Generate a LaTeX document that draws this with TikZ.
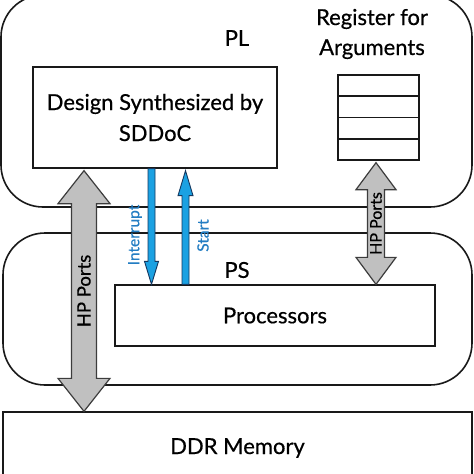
\documentclass[tikz,border=0pt]{standalone}
\usepackage{fontspec}
\setmainfont{Lato}[FakeBold=0.5,AutoFakeBold=0.5]
\newfontfamily\lblfont{Lato}
\usetikzlibrary{calc}
\definecolor{cyanfill}{RGB}{27,161,226}
\definecolor{cyanline}{RGB}{20,55,95}
\definecolor{labelblue}{RGB}{35,125,195}
\definecolor{grayfill}{RGB}{192,192,192}
\definecolor{ink}{RGB}{25,25,25}
\newcommand{\dblvarrow}[6]{%
  \draw[#1] let \p1=(#2), \p2=(#3) in
   (\x1,\y1) -- (\x1+#5,\y1-#6) -- (\x1+#4,\y1-#6) -- (\x1+#4,\y2+#6) -- (\x1+#5,\y2+#6)
   -- (\x1,\y2) -- (\x1-#5,\y2+#6) -- (\x1-#4,\y2+#6) -- (\x1-#4,\y1-#6) -- (\x1-#5,\y1-#6) -- cycle;}
\newcommand{\sglvarrow}[6]{% tail #2, tip #3 (vertical)
  \draw[#1] let \p1=(#2), \p2=(#3), \n1={ifthenelse(\y2>\y1,1,-1)} in
   (\x1-#4,\y1) -- (\x1-#4,\y2-\n1*#6) -- (\x1-#5,\y2-\n1*#6) -- (\x1,\y2)
   -- (\x1+#5,\y2-\n1*#6) -- (\x1+#4,\y2-\n1*#6) -- (\x1+#4,\y1) -- cycle;}
\tikzset{
  group/.style={draw=ink, line width=1.6pt, rounded corners=42pt, inner sep=0pt},
  box/.style={draw=ink, line width=1.3pt, fill=white, inner sep=0pt, align=center,
              font=\fontsize{22}{31}\selectfont\bfseries},
  lbl/.style={inner sep=0pt, align=center, font=\fontsize{22}{30}\selectfont\bfseries},
  fatarrow/.style={draw=ink!85, fill=grayfill, line width=1.2pt, line join=miter},
  bluearrow/.style={draw=cyanline, fill=cyanfill, line width=0.9pt, line join=miter},
  hplabel/.style={inner sep=0pt, rotate=90},
  siglabel/.style={inner sep=0pt, rotate=90, text=labelblue, font=\fontsize{15.5}{17}\selectfont},
}
\begin{document}
\begin{tikzpicture}[x=1pt,y=-1pt]
\useasboundingbox (0,0) rectangle (474,474);
\clip (0,0) rectangle (474,474);
\fill[white] (0,0) rectangle (474,474);
% groups
\node[group, minimum width=471pt, minimum height=212pt] (pl) at (236.5,101) {};
\node[group, minimum width=469pt, minimum height=152pt] (ps) at (237.5,309) {};
\node[box, minimum width=469pt, minimum height=72pt] (ddr) at (237.5,448) {DDR Memory};
% labels
\node[lbl] (pltext) at (237,38) {PL};
\node[lbl] (pstext) at (237,270) {PS};
\node[lbl] (regtext) at (372,34) {Register for\\Arguments};
% blocks
\node[box, minimum width=244pt, minimum height=101pt] (design) at (155,117.5) {Design Synthesized by\\SDDoC};
\node[box, minimum width=81pt, minimum height=85pt] (reg) at (378.5,117.5) {};
\foreach \f in {0.25,0.5,0.75}
  \draw[ink, line width=1.3pt] ($(reg.north west)!\f!(reg.south west)$) -- ($(reg.north east)!\f!(reg.south east)$);
\node[box, minimum width=320pt, minimum height=61pt] (proc) at (275,315.5) {Processors};
% helper x positions
\coordinate (lx) at (84,0);
\coordinate (ix) at (151.5,0);
\coordinate (sx) at (185.5,0);
\coordinate (lt) at ([yshift=-2pt]design.south -| lx);
\coordinate (lb) at (ddr.north -| lx);
\coordinate (rt) at ([yshift=-2pt,xshift=-2.5pt]reg.south);
\coordinate (rb) at (proc.north -| rt);
\coordinate (it) at (design.south -| ix);
\coordinate (ib) at (proc.north -| ix);
\coordinate (sb) at (proc.north -| sx);
\coordinate (st) at ([yshift=-2pt]design.south -| sx);
% HP ports arrows
\dblvarrow{fatarrow}{lt}{lb}{12.5pt}{26pt}{33pt}
\node[hplabel, font=\fontsize{18.5}{20}\selectfont\bfseries] (hpl) at ($(lt)!0.5!(lb)$) {HP Ports};
\dblvarrow{fatarrow}{rt}{rb}{8.5pt}{20pt}{27pt}
\node[hplabel, font=\fontsize{16}{18}\selectfont\bfseries] (hpr) at ($(rt)!0.5!(rb)$) {HP Ports};
% signal arrows
\sglvarrow{bluearrow}{it}{ib}{3.5pt}{7pt}{23pt}
\sglvarrow{bluearrow}{sb}{st}{3.5pt}{7.5pt}{25pt}
\node[siglabel] (intl) at (135,235) {Interrupt};
\node[siglabel] (stl) at (203,235.5) {Start};
\end{tikzpicture}
\end{document}
